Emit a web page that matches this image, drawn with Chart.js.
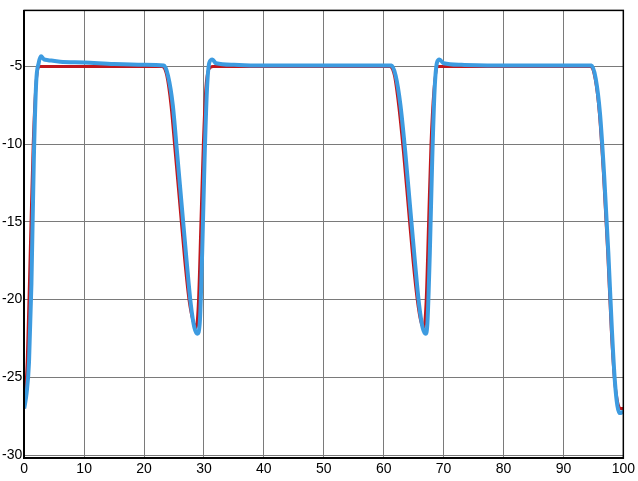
<!DOCTYPE html>
<html><head><meta charset="utf-8">
<script src="https://cdn.jsdelivr.net/npm/chart.js@4"></script>
<style>html,body{margin:0;background:#fff}#w{width:638px;height:481px}</style>
</head><body><div id="w"><canvas id="c"></canvas></div>
<script>
const refX = [0,0.5,1,1.5,2,2.5,3,10,20,23,23.8,24.5,25.2,26,26.8,27.5,28.2,28.7,29.1,29.5,29.9,30.3,30.8,31.5,40,50,60,61,61.8,62.5,63.3,64.1,64.9,65.6,66.2,66.7,67.1,67.5,67.9,68.4,69,80,90,94.5,95.3,96,96.7,97.4,98,98.5,99,99.5,100];
const refY = [-27,-24,-17,-10,-6,-5,-5,-5,-5,-5,-5.6,-7.5,-10.5,-14,-17.5,-20,-21.4,-21.8,-20,-15,-10,-6.5,-5.2,-5,-5,-5,-5,-5,-5.6,-7.5,-10.5,-14,-17.5,-20,-21.4,-21.8,-20,-15,-10,-6.5,-5,-5,-5,-5,-5.8,-8,-12,-17,-22,-25,-26.5,-27,-27];
const actX = [0,0.4,0.8,1.2,1.6,2,2.4,2.8,3.3,4,6,10,15,20,23.3,24,24.8,25.5,26.3,27.1,27.8,28.4,28.9,29.3,29.7,30.1,30.5,30.9,31.4,32,35,40,50,61.3,62,62.8,63.6,64.4,65.2,65.9,66.5,67,67.3,67.7,68.1,68.5,68.9,69.3,70,73,80,90,94.7,95.4,96.1,96.8,97.5,98.1,98.6,99,99.4,100];
const actY = [-27,-26,-24,-19,-11,-6,-4.8,-4.35,-4.55,-4.6,-4.7,-4.75,-4.85,-4.9,-4.95,-5.6,-7.5,-10.5,-14,-17.5,-20.3,-21.8,-22.2,-21.5,-17,-11,-6.5,-4.75,-4.55,-4.8,-4.9,-4.95,-4.95,-4.95,-5.6,-7.5,-10.5,-14,-17.5,-20.3,-21.8,-22.2,-21.5,-17,-11,-6.5,-4.75,-4.55,-4.8,-4.9,-4.95,-4.95,-4.95,-5.8,-8,-12,-17,-22,-25.3,-26.8,-27.3,-27.2];
const xTicks = [0,10,20,30,40,50,60,70,80,90,100];
const yTicks = [-30,-25,-20,-15,-10,-5];
const pts = (xs, ys) => xs.map((x, i) => ({x, y: ys[i]}));
new Chart(document.getElementById('c'), {
  type: 'line',
  data: { datasets: [
    {data: pts(actX, actY), borderColor: '#3d9be0', borderWidth: 4, pointRadius: 0, cubicInterpolationMode: 'monotone'},
    {data: pts(refX, refY), borderColor: '#c0161b', borderWidth: 3, pointRadius: 0, cubicInterpolationMode: 'monotone'}
  ]},
  options: {
    animation: false, responsive: true, maintainAspectRatio: false,
    layout: {padding: {top: 8, right: 14, bottom: 0, left: 0}},
    plugins: {legend: {display: false}, tooltip: {enabled: false}},
    scales: {
      x: {type: 'linear', min: 0, max: 100,
        afterBuildTicks: a => { a.ticks = xTicks.map(v => ({value: v})); },
        grid: {color: '#7a7a7a', lineWidth: 1, drawTicks: false},
        border: {color: '#000', width: 1.5},
        ticks: {color: '#000', font: {family: 'Liberation Sans', size: 14}, padding: 3, maxRotation: 0}},
      y: {min: -30.2, max: -1.4,
        afterBuildTicks: a => { a.ticks = yTicks.map(v => ({value: v})); },
        grid: {color: '#7a7a7a', lineWidth: 1, drawTicks: false},
        border: {color: '#000', width: 1.5},
        ticks: {color: '#000', font: {family: 'Liberation Sans', size: 14}, padding: 2}}
    }
  },
  plugins: [{id: 'frame', afterDraw(ch) {
    const {ctx, chartArea: a} = ch;
    ctx.save(); ctx.strokeStyle = '#000'; ctx.lineWidth = 1.5;
    ctx.strokeRect(a.left, a.top, a.right - a.left, a.bottom - a.top);
    ctx.restore();
  }}]
});
</script></body></html>
